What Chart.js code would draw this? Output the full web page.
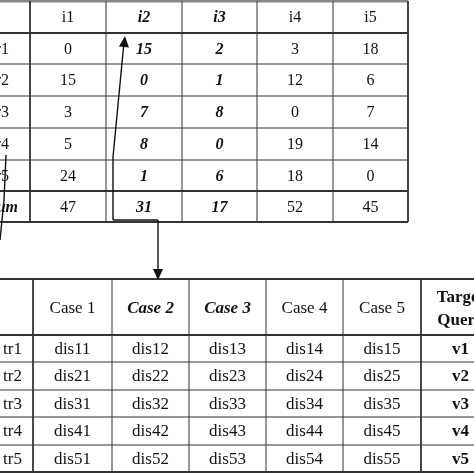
<!DOCTYPE html>
<html><head><meta charset="utf-8">
<script src="https://cdn.jsdelivr.net/npm/chart.js@4/dist/chart.umd.min.js"></script>
<style>html,body{margin:0;padding:0;background:#fff}canvas{display:block}</style>
</head><body>
<canvas id="c" width="474" height="474"></canvas>
<script>
// Data
const topCols = ['i1','i2','i3','i4','i5'];
const topRows = ['tr1','tr2','tr3','tr4','tr5','Sum'];
const topVals = [
  [0,15,2,3,18],
  [15,0,1,12,6],
  [3,7,8,0,7],
  [5,8,0,19,14],
  [24,1,6,18,0],
  [47,31,17,52,45]
];
const botCols = ['Case 1','Case 2','Case 3','Case 4','Case 5','Target Query'];
const botRows = ['tr1','tr2','tr3','tr4','tr5'];
const botVals = [
  ['dis11','dis12','dis13','dis14','dis15','v1'],
  ['dis21','dis22','dis23','dis24','dis25','v2'],
  ['dis31','dis32','dis33','dis34','dis35','v3'],
  ['dis41','dis42','dis43','dis44','dis45','v4'],
  ['dis51','dis52','dis53','dis54','dis55','v5']
];

const tablePlugin = {
  id: 'tables',
  afterDraw(chart) {
    const ctx = chart.ctx, xs = chart.scales.x, ys = chart.scales.y;
    const X = v => xs.getPixelForValue(v), Y = v => ys.getPixelForValue(v);
    ctx.save();
    ctx.strokeStyle = '#333'; ctx.fillStyle = '#111';
    ctx.textAlign = 'center'; ctx.textBaseline = 'middle';
    function line(x1,y1,x2,y2,w){ctx.lineWidth=w||1.2;ctx.beginPath();ctx.moveTo(X(x1),Y(y1));ctx.lineTo(X(x2),Y(y2));ctx.stroke();}
    // Top table
    const tX = [-46,30,106,182,257,333,408];
    const tY = [1,33,64,96,128,160,191,222];
    ctx.strokeStyle='#888'; line(-46,1,408,1,3); ctx.strokeStyle='#333';
    tY.slice(1).forEach((y,i)=>line(-46,y,408,y,(i===0||i===5||i===6)?1.8:1));
    tX.forEach((x,i)=>line(x,1,x,222,(i===1||i===6)?1.8:1));
    const boldCol = c => c===1||c===2;
    const F1 = '16px "Liberation Serif"', F2 = '17px "Liberation Serif"';
    topCols.forEach((t,c)=>{
      ctx.font=(boldCol(c)?'italic bold ':'')+F1;
      ctx.fillText(t,X((tX[c+1]+tX[c+2])/2),Y((tY[0]+tY[1])/2+1));
    });
    topRows.forEach((r,ri)=>{
      const cy=(tY[ri+1]+tY[ri+2])/2+1;
      ctx.textAlign='right';
      ctx.font=(ri===5?'italic bold ':'')+F1;
      ctx.fillText(r,X(ri===5?18:9),Y(cy));
      ctx.textAlign='center';
      topVals[ri].forEach((v,c)=>{
        ctx.font=(boldCol(c)?'italic bold ':'')+F1;
        ctx.fillText(String(v),X((tX[c+1]+tX[c+2])/2),Y(cy));
      });
    });
    // Bottom table
    const bX = [-45,33,112,189,266,343,421,500];
    const bY = [279,335,362,390,417,445,472];
    bY.forEach((y,i)=>line(-45,y,500,y,(i===0||i===1||i===6)?1.8:1));
    bX.forEach((x,i)=>line(x,279,x,472,(i===1||i===6)?1.8:1));
    botCols.forEach((t,c)=>{
      const cx=(bX[c+1]+bX[c+2])/2;
      if(c===5){
        ctx.font='bold '+F2;
        ctx.fillText('Target',X(cx),Y(298));ctx.fillText('Query',X(cx),Y(321));
      } else {
        ctx.font=(boldCol(c)?'italic bold ':'')+F2;
        ctx.fillText(t,X(cx),Y(309));
      }
    });
    botRows.forEach((r,ri)=>{
      const cy=(bY[ri+1]+bY[ri+2])/2+1;
      ctx.font=F2; ctx.textAlign='right';
      ctx.fillText(r,X(22),Y(cy));
      ctx.textAlign='center';
      botVals[ri].forEach((v,c)=>{
        ctx.font=(c===5?'bold ':'')+F2;
        ctx.fillText(v,X((bX[c+1]+bX[c+2])/2),Y(cy));
      });
    });
    // Arrows
    ctx.strokeStyle='#111'; ctx.fillStyle='#111';
    line(113,220,113,157,1.4); line(113,157,124,42,1.4);
    line(113,220,158,220,1.4); line(158,220,158,270,1.4);
    line(6,155,4,200,1.4); line(4,200,0,240,1.4);
    function head(x,y,dx,dy){const L=11,W=5,n=Math.hypot(dx,dy),ux=dx/n,uy=dy/n;
      ctx.beginPath();ctx.moveTo(X(x),Y(y));
      ctx.lineTo(X(x-ux*L-uy*W),Y(y-uy*L+ux*W));ctx.lineTo(X(x-ux*L+uy*W),Y(y-uy*L-ux*W));ctx.closePath();ctx.fill();}
    head(125,36,11,-115); head(158,280,0,1);
    ctx.restore();
  }
};

new Chart(document.getElementById('c'), {
  type: 'scatter',
  data: { datasets: [{ data: [] }] },
  options: {
    responsive: false, animation: false,
    layout: { padding: 0 },
    plugins: { legend: { display: false }, tooltip: { enabled: false } },
    scales: {
      x: { type: 'linear', min: 0, max: 474, display: false },
      y: { type: 'linear', min: 0, max: 474, reverse: true, display: false }
    }
  },
  plugins: [tablePlugin]
});
</script>
</body></html>
